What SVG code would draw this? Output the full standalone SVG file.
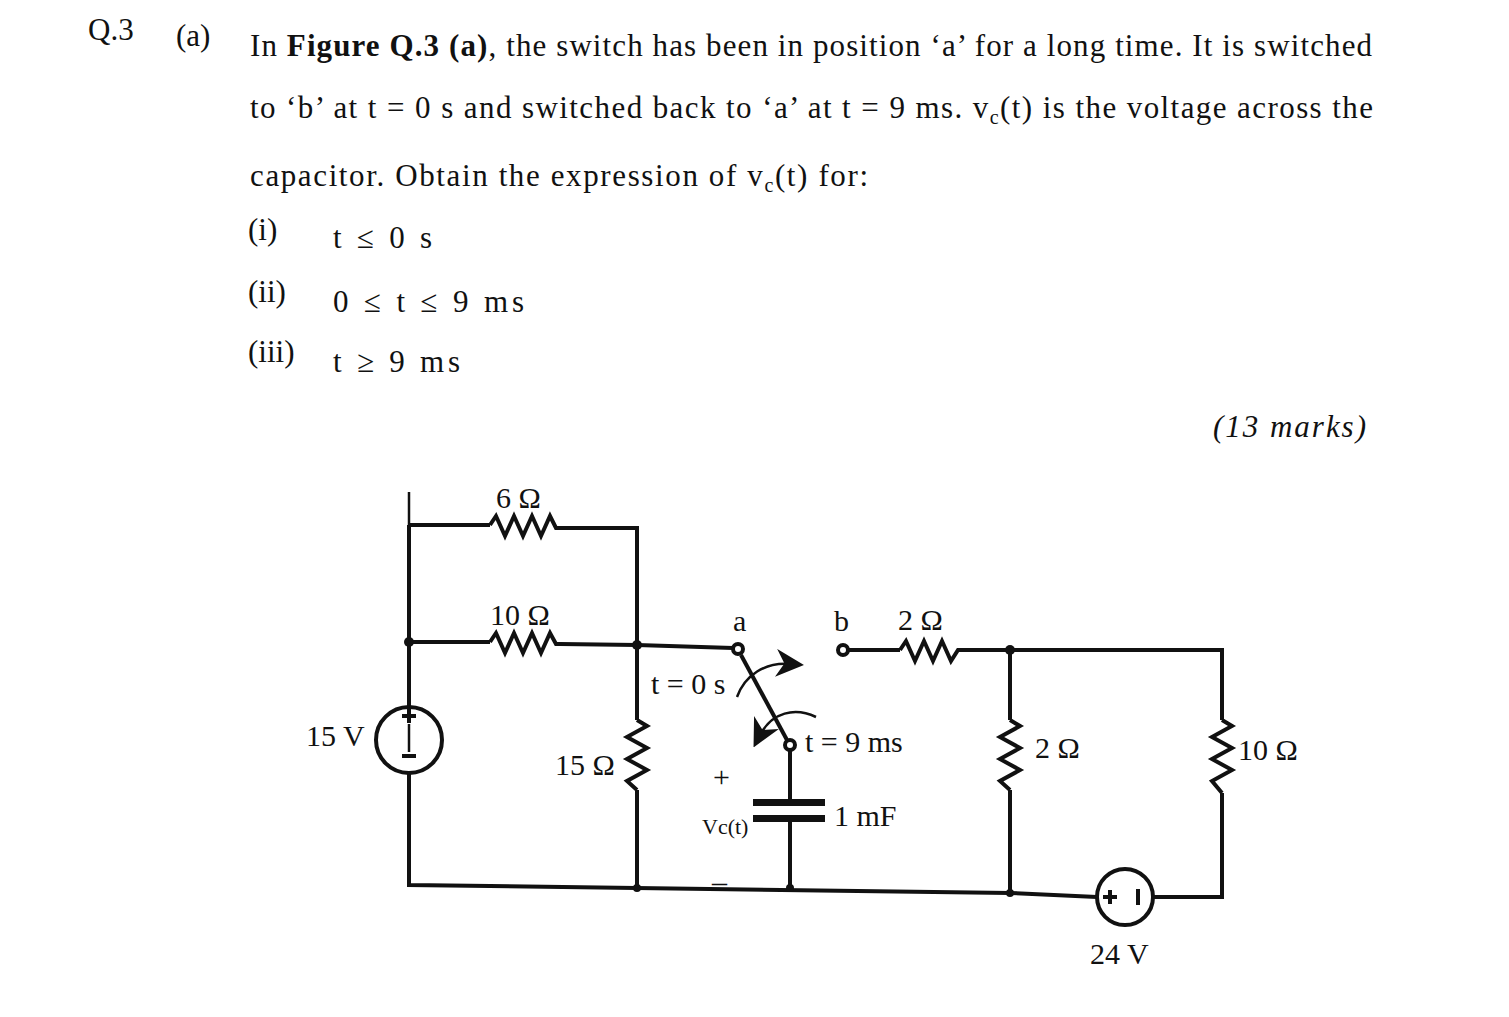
<svg xmlns="http://www.w3.org/2000/svg" width="1509" height="1017" viewBox="0 0 1509 1017">
<style>
text{font-family:"Liberation Serif","Times New Roman",serif;fill:#111}
.t{font-size:31px}
.l{font-size:30px}
.w{fill:none;stroke:#111;stroke-width:4;stroke-linejoin:miter}
.th{fill:none;stroke:#111;stroke-width:2.5}
</style>
<defs>
<marker id="ah" viewBox="0 0 10 10" refX="5" refY="5" markerWidth="9" markerHeight="9" markerUnits="userSpaceOnUse" orient="auto"><path d="M0,0 L10,5 L0,10 L3,5 z" fill="#111"/></marker>
<marker id="ah2" viewBox="0 0 10 10" refX="5" refY="5" markerWidth="28" markerHeight="28" markerUnits="userSpaceOnUse" orient="auto"><path d="M0,0 L10,5 L0,10 L3,5 z" fill="#111"/></marker>
</defs>
<rect width="1509" height="1017" fill="#fff"/>
<g id="question">
<text class="t" x="88" y="40">Q.3</text>
<text class="t" x="176" y="46">(a)</text>
<text class="t" x="250" y="56" textLength="1122">In <tspan font-weight="bold">Figure Q.3 (a)</tspan>, the switch has been in position ‘a’ for a long time. It is switched</text>
<text class="t" x="250" y="118" textLength="1123">to ‘b’ at t = 0 s and switched back to ‘a’ at t = 9 ms. v<tspan font-size="20" dy="6">c</tspan><tspan dy="-6">(t) is the voltage across the</tspan></text>
<text class="t" x="250" y="186" textLength="618">capacitor. Obtain the expression of v<tspan font-size="20" dy="6">c</tspan><tspan dy="-6">(t) for:</tspan></text>
<text class="t" x="248" y="240">(i)</text><text class="t" x="333" y="248" textLength="99">t ≤ 0 s</text>
<text class="t" x="248" y="302">(ii)</text><text class="t" x="333" y="312" textLength="191">0 ≤ t ≤ 9 ms</text>
<text class="t" x="248" y="362">(iii)</text><text class="t" x="333" y="372" textLength="127">t ≥ 9 ms</text>
<text class="t" x="1213" y="437" font-style="italic" textLength="153">(13 marks)</text>
</g>
<g id="wires">
<path class="w" d="M409,525 L490,525 M560,528 L637,528 L637,645"/>
<path class="th" d="M409,492 L409,525"/>
<path class="w" d="M409,525 L409,707 M409,773 L409,885 L1010,893 M1010,893 L1097,897 M1153,897 L1222,897 L1222,793 M1222,720 L1222,650 L960,650"/>
<path class="w" d="M409,642 L490,642 M560,644 L637,645 L733,648"/>
<path class="w" d="M637,645 L637,720 M637,790 L637,888"/>
<path class="w" d="M848,650 L900,650"/>
<path class="w" d="M1010,650 L1010,720 M1010,790 L1010,893"/>
<path class="w" d="M790,748 L790,801 M790,820 L790,888"/>
<circle cx="409" cy="642" r="5" fill="#111"/>
<circle cx="637" cy="645" r="5" fill="#111"/>
<circle cx="1010" cy="650" r="5" fill="#111"/>
<circle cx="637" cy="888" r="4" fill="#111"/>
<circle cx="790" cy="888" r="4" fill="#111"/>
<circle cx="1010" cy="893" r="4" fill="#111"/>
</g>
<g id="R6"><path class="w" d="M490,525 L496,516 L505,536 L514,516 L523,536 L532,516 L541,536 L550,516 L556,528 L560,528"/><text class="l" x="496" y="508">6 Ω</text></g>
<g id="R10"><path class="w" d="M490,642 L496,633 L505,653 L514,633 L523,653 L532,633 L541,653 L550,633 L556,644 L560,644"/><text class="l" x="490" y="625">10 Ω</text></g>
<g id="R15"><path class="w" d="M637,720 L647,726 L627,737 L647,748 L627,759 L647,770 L627,781 L637,790"/><text class="l" x="555" y="775">15 Ω</text></g>
<g id="R2a"><path class="w" d="M900,650 L906,641 L915,661 L924,641 L933,661 L942,641 L951,661 L958,650 L960,650"/><text class="l" x="898" y="630">2 Ω</text></g>
<g id="R2b"><path class="w" d="M1010,720 L1020,726 L1000,737 L1020,748 L1000,759 L1020,770 L1000,781 L1010,790"/><text class="l" x="1035" y="758">2 Ω</text></g>
<g id="R10b"><path class="w" d="M1222,720 L1232,726 L1212,737 L1232,748 L1212,759 L1232,770 L1212,781 L1222,793"/><text class="l" x="1238" y="760">10 Ω</text></g>
<g id="V15"><circle class="w" cx="409" cy="740" r="33"/><path class="w" d="M402,716 L416,716 M409,709 L409,723 M402,756 L416,756"/><path class="th" d="M409,724 L409,752"/><text class="l" x="306" y="746">15 V</text></g>
<g id="V24"><circle class="w" cx="1125" cy="897" r="28"/><path class="w" d="M1103,897 L1117,897 M1110,890 L1110,904 M1138,889 L1138,905"/><text class="l" x="1090" y="964">24 V</text></g>
<g id="switch">
<circle class="w" cx="738" cy="649" r="5" fill="#fff"/>
<circle class="w" cx="843" cy="650" r="5" fill="#fff"/>
<circle class="w" cx="790" cy="745" r="5" fill="#fff"/>
<path class="w" d="M741,655 L787,740"/>
<path class="th" d="M737,697 C745,675 765,662 790,664" marker-end="url(#ah2)" stroke-width="3"/>
<path class="th" d="M816,717 C795,707 772,712 760,735" marker-end="url(#ah2)" stroke-width="3"/>
<text class="l" x="733" y="631">a</text><text class="l" x="834" y="631">b</text>
<text class="l" x="651" y="694">t = 0 s</text>
<text class="l" x="805" y="752">t = 9 ms</text>
</g>
<g id="C">
<rect x="753" y="799" width="72" height="7" fill="#111"/>
<rect x="753" y="815" width="72" height="7" fill="#111"/>
<text class="l" x="834" y="826">1 mF</text>
<text class="l" x="713" y="787">+</text>
<text x="702" y="834" font-size="22">Vc(t)</text>
<text class="l" x="712" y="892">–</text>
</g>
</svg>
